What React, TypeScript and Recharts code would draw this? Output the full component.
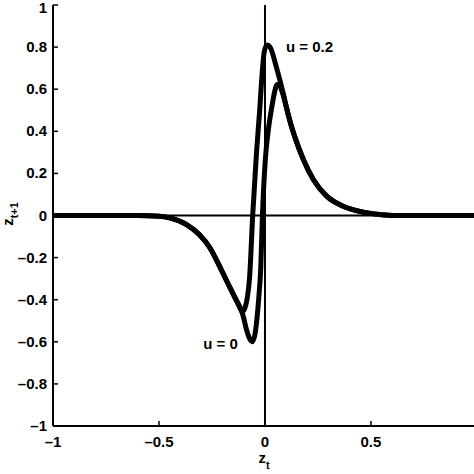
import { LineChart, Line, XAxis, YAxis, ReferenceLine, ReferenceDot } from "recharts";

const xTicks = [-1, -0.5, 0, 0.5];
const yTicks = [-1, -0.8, -0.6, -0.4, -0.2, 0, 0.2, 0.4, 0.6, 0.8, 1];

// u = 0.2 curve (higher peak, shallower trough)
const highX = [
    -1, -0.8, -0.6, -0.5, -0.45, -0.37, -0.31, -0.26, -0.21, -0.165, -0.125, -0.105, -0.095, -0.085,
    -0.073, -0.058, -0.04, -0.025, -0.013, -0.003, 0.01, 0.024, 0.055, 0.086, 0.102, 0.12, 0.142, 0.181,
    0.228, 0.291, 0.369, 0.464, 0.55, 0.65, 0.8, 0.986,
];
const highY = [
    0, 0, 0, -0.004, -0.011, -0.043, -0.09, -0.153, -0.25, -0.343, -0.423, -0.455, -0.44, -0.4,
    -0.3, 0, 0.3, 0.5, 0.68, 0.78, 0.81, 0.8, 0.7, 0.58, 0.51, 0.44, 0.37, 0.266,
    0.171, 0.092, 0.044, 0.016, 0.004, 0, 0, 0,
];

// u = 0 curve (deeper trough, lower peak)
const zeroX = [
    -1, -0.8, -0.6, -0.5, -0.45, -0.37, -0.31, -0.26, -0.21, -0.165, -0.125, -0.105, -0.085, -0.07,
    -0.06, -0.045, -0.03, -0.02, -0.012, 0.002, 0.015, 0.033, 0.046, 0.058, 0.07, 0.085, 0.102, 0.12,
    0.142, 0.181, 0.228, 0.291, 0.369, 0.464, 0.55, 0.65, 0.8, 0.986,
];
const zeroY = [
    0, 0, 0, -0.004, -0.011, -0.043, -0.09, -0.153, -0.25, -0.343, -0.423, -0.47, -0.55, -0.59,
    -0.6, -0.55, -0.4, -0.25, 0, 0.27, 0.4, 0.52, 0.59, 0.622, 0.615, 0.575, 0.51, 0.44,
    0.37, 0.266, 0.171, 0.092, 0.044, 0.016, 0.004, 0, 0, 0,
];

const toPoints = (xs: number[], ys: number[]) => xs.map((x, i) => ({ x, y: ys[i] }));

const fmt = (v: number) => (v < 0 ? "\u2013" : "") + String(Math.abs(v));

const FONT = "'Liberation Sans', Arial, Helvetica, sans-serif";

function XTick({ x, y, payload }: any) {
    return (
        <g>
            <line x1={x} x2={x} y1={y} y2={y - 5} stroke="#000" strokeWidth={1.5} />
            <text x={x} y={y + 21} textAnchor="middle" fontSize={15} fontWeight="bold" fill="#000" fontFamily={FONT}>
                {fmt(payload.value)}
            </text>
        </g>
    );
}

function YTick({ x, y, payload }: any) {
    return (
        <g>
            <line x1={x} x2={x + 5} y1={y} y2={y} stroke="#000" strokeWidth={1.5} />
            <text x={x - 6} y={Math.max(y + 5, 13)} textAnchor="end" fontSize={15} fontWeight="bold" fill="#000" fontFamily={FONT}>
                {fmt(payload.value)}
            </text>
        </g>
    );
}

function XLabel() {
    return (
        <text x={264} y={463} textAnchor="middle" fontSize={15} fontWeight="bold" fill="#000" fontFamily={FONT}>
            z<tspan dy={6} fontSize={11}>t</tspan>
        </text>
    );
}

function YLabel() {
    return (
        <text
            x={13}
            y={214}
            transform="rotate(-90, 13, 214)"
            textAnchor="middle"
            fontSize={15}
            fontWeight="bold"
            fill="#000"
            fontFamily={FONT}
        >
            z<tspan dy={5} fontSize={11}>t+1</tspan>
        </text>
    );
}

export default function App() {
    const high = toPoints(highX, highY);
    const zero = toPoints(zeroX, zeroY);

    return (
        <div style={{ position: "absolute", top: 0, left: 0, width: 474, height: 474, background: "#fff" }}>
            <LineChart width={474} height={474} margin={{ top: 5, right: 0, bottom: 0, left: 0 }}>
                <XAxis
                    type="number"
                    dataKey="x"
                    domain={[-1, 0.986]}
                    ticks={xTicks}
                    allowDataOverflow
                    height={48}
                    axisLine={{ stroke: "#000", strokeWidth: 2 }}
                    tickLine={false}
                    tickSize={0}
                    tickMargin={0}
                    tick={<XTick />}
                    interval={0}
                    label={<XLabel />}
                />
                <YAxis
                    type="number"
                    dataKey="y"
                    domain={[-1, 1]}
                    ticks={yTicks}
                    allowDataOverflow
                    width={53}
                    axisLine={{ stroke: "#000", strokeWidth: 2 }}
                    tickLine={false}
                    tickSize={0}
                    tickMargin={0}
                    tick={<YTick />}
                    interval={0}
                    label={<YLabel />}
                />
                <ReferenceLine y={0} stroke="#000" strokeWidth={2} />
                <ReferenceLine x={0} stroke="#000" strokeWidth={2} />
                <Line data={zero} dataKey="y" type="monotone" stroke="#000" strokeWidth={5} dot={false} isAnimationActive={false} />
                <Line data={high} dataKey="y" type="monotone" stroke="#000" strokeWidth={5} dot={false} isAnimationActive={false} />
                <ReferenceDot
                    x={0.21}
                    y={0.8}
                    r={0}
                    stroke="none"
                    fill="none"
                    label={{ value: "u = 0.2", position: "center", fill: "#000", fontSize: 15, fontWeight: "bold", fontFamily: FONT }}
                />
                <ReferenceDot
                    x={-0.21}
                    y={-0.61}
                    r={0}
                    stroke="none"
                    fill="none"
                    label={{ value: "u = 0", position: "center", fill: "#000", fontSize: 15, fontWeight: "bold", fontFamily: FONT }}
                />
            </LineChart>
        </div>
    );
}
